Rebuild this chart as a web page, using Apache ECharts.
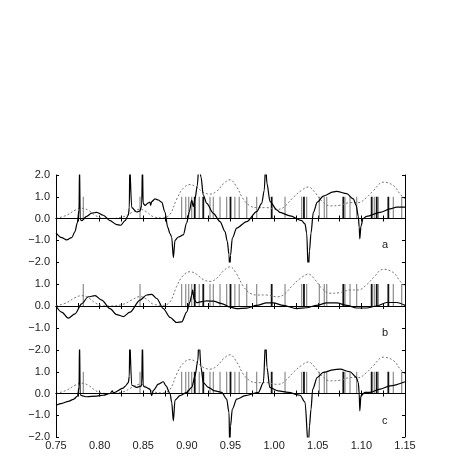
<!DOCTYPE html>
<html>
<head>
<meta charset="utf-8">
<script src="https://cdn.jsdelivr.net/npm/echarts@6/dist/echarts.min.js"></script>
<style>
  html, body { margin: 0; padding: 0; background: #fff; }
  #chart { width: 474px; height: 474px; }
</style>
</head>
<body>
<div id="chart"></div>
<script>
// x ticks, y ticks
const xTicks = [0.75, 0.80, 0.85, 0.90, 0.95, 1.00, 1.05, 1.10, 1.15]
const yTicks = [-2, -1, 0, 1, 2]
const panelNames = ['a', 'b', 'c']

// stick spectrum (positions on the x axis, all sticks reach 1.0)
const grayStickX = [0.7813, 0.8463, 0.894, 0.8987, 0.9021, 0.9055, 0.9142, 0.9265, 0.9303, 0.938,
  0.9456, 0.955, 0.960, 0.9686, 0.980, 1.0125, 1.0316, 1.0373, 1.0518, 1.0575, 1.0603,
  1.0812, 1.087, 1.0946, 1.1148, 1.1194, 1.1366, 1.1462]
const blackStickX = [0.909, 0.9188, 0.950, 0.9972, 1.0342, 1.0793, 1.1118, 1.1176, 1.1309]

// dotted envelope (same in all three panels)
const dottedCurve = [
  [0.75, 0.0], [0.7622, 0.15], [0.7718, 0.38], [0.7794, 0.47], [0.787, 0.38], [0.7947, 0.15],
  [0.8024, 0.02], [0.8119, 0.0], [0.8272, 0.08], [0.8367, 0.27], [0.8463, 0.43], [0.854, 0.3],
  [0.8616, 0.08], [0.873, 0.03], [0.8807, 0.19], [0.8883, 0.89], [0.896, 1.4], [0.9036, 1.56],
  [0.9112, 1.44], [0.9188, 1.2], [0.9265, 1.12], [0.9341, 1.25], [0.9418, 1.59], [0.9494, 1.78],
  [0.9571, 1.45], [0.9647, 0.89], [0.9724, 0.58], [0.98, 0.5], [0.9915, 0.5], [1.003, 0.42],
  [1.0105, 0.5], [1.022, 0.97], [1.0316, 1.3], [1.0392, 1.45], [1.0468, 1.2], [1.0545, 0.81],
  [1.064, 0.58], [1.0755, 0.61], [1.087, 0.73], [1.0965, 0.73], [1.1061, 0.97], [1.1137, 1.28],
  [1.1251, 1.67], [1.1366, 1.52], [1.1443, 1.13], [1.15, 0.89]
]

// solid curve, panel a
const solidA = [
  [0.75, -0.66], [0.7565, -0.88], [0.7622, -0.98], [0.768, -0.88], [0.7718, -0.6], [0.7744, -0.2],
  [0.7764, 0.4], [0.7770, 2.5], [0.7777, -0.05], [0.7794, -0.1], [0.7852, 0.1], [0.7909, 0.25],
  [0.7966, 0.28], [0.8042, 0.15], [0.8119, -0.1], [0.8195, -0.28], [0.8241, -0.31], [0.8291, -0.1],
  [0.8329, 0.15], [0.834, 0.5], [0.8346, 2.5], [0.8354, 2.5], [0.8368, 0.5], [0.8425, 0.3],
  [0.8463, 0.35], [0.8482, 0.6], [0.8491, 2.5], [0.8499, 0.7], [0.852, 0.6], [0.8558, 0.72],
  [0.8577, 0.75], [0.8585, 0.6], [0.8597, 0.78], [0.8635, 0.9], [0.8673, 0.85], [0.8711, 0.75],
  [0.8749, 0.3], [0.878, -0.4], [0.8807, -0.7], [0.8826, -0.85], [0.8845, -1.8], [0.8864, -1.0],
  [0.8902, -0.85], [0.8959, -0.75], [0.8998, -0.2], [0.9028, 0.3], [0.9055, 0.85], [0.9074, 0.55],
  [0.9093, 0.9], [0.9119, 1.5], [0.9139, 2.5], [0.9162, 1.9], [0.9188, 1.08], [0.9227, 0.7],
  [0.9303, 0.24], [0.938, -0.14], [0.9437, -0.6], [0.9463, -1.05], [0.9483, -1.66], [0.9491, -2.5],
  [0.95, -1.7], [0.9521, -0.9], [0.9571, -0.44], [0.9686, -0.14], [0.98, 0.32], [0.9858, 0.7],
  [0.9887, 1.3], [0.9903, 2.5], [0.9918, 1.6], [0.9953, 0.78], [1.003, 0.4], [1.0067, 0.28],
  [1.0182, 0.12], [1.0316, -0.1], [1.0354, -0.25], [1.0373, -0.66], [1.0392, -2.5], [1.0405, -1.5],
  [1.0423, -0.66], [1.0449, 0.28], [1.0495, 0.75], [1.0564, 1.03], [1.0678, 1.22], [1.0717, 1.25],
  [1.0832, 1.14], [1.0908, 0.9], [1.094, 0.6], [1.0965, 0.1], [1.0975, -0.4], [1.0982, -0.94],
  [1.0995, -0.35], [1.102, 0.0], [1.106, 0.1], [1.1213, 0.28], [1.1328, 0.44], [1.1405, 0.52],
  [1.15, 0.52]
]

// solid curve, panel b
const solidB = [
  [0.75, 0.0], [0.7565, -0.28], [0.7641, -0.55], [0.7718, -0.36], [0.7794, 0.1], [0.787, 0.42],
  [0.7947, 0.47], [0.8024, 0.27], [0.8119, -0.12], [0.8195, -0.39], [0.8272, -0.48], [0.8348, -0.28],
  [0.8463, 0.27], [0.854, 0.5], [0.8597, 0.53], [0.8654, 0.34], [0.873, -0.12], [0.8807, -0.52],
  [0.8883, -0.75], [0.8941, -0.72], [0.8998, -0.28], [0.9036, 0.19], [0.9055, 0.5], [0.9067, 0.73],
  [0.9082, 0.3], [0.9112, 0.15], [0.917, 0.2], [0.9227, 0.23], [0.9303, 0.22], [0.9399, 0.11],
  [0.9494, -0.05], [0.9571, -0.12], [0.9686, -0.1], [0.98, 0.03], [0.9915, 0.14], [0.999, 0.14],
  [1.0105, 0.03], [1.0258, -0.12], [1.0373, -0.08], [1.0488, 0.03], [1.0603, 0.14], [1.0717, 0.14],
  [1.0832, 0.03], [1.0946, -0.09], [1.1061, -0.09], [1.1176, 0.0], [1.129, 0.16], [1.1405, 0.16],
  [1.15, 0.03]
]

// solid curve, panel c
const solidC = [
  [0.75, -0.54], [0.757, -0.45], [0.7641, -0.36], [0.7699, -0.27], [0.7747, -0.12], [0.7764, 0.3],
  [0.7770, 2.5], [0.7777, -0.05], [0.7794, -0.1], [0.7852, -0.15], [0.7966, -0.12], [0.8042, -0.08],
  [0.8119, 0.0], [0.8145, 0.12], [0.8157, 0.03], [0.8272, 0.25], [0.8291, 0.33], [0.8329, 0.5],
  [0.834, 0.8], [0.8346, 2.5], [0.8354, 2.5], [0.8368, 0.38], [0.8425, 0.28], [0.8482, 0.35],
  [0.8491, 2.5], [0.8499, 0.35], [0.852, 0.3], [0.8577, 0.2], [0.8597, -0.1], [0.8616, 0.15],
  [0.8673, 0.43], [0.873, 0.54], [0.876, 0.35], [0.8807, 0.0], [0.8826, -0.4], [0.8845, -1.26],
  [0.8864, -0.3], [0.8921, -0.1], [0.8998, 0.05], [0.9055, 0.28], [0.9093, 0.8], [0.9125, 1.5],
  [0.9139, 2.5], [0.9162, 1.2], [0.9188, 0.5], [0.9246, 0.28], [0.9322, 0.12], [0.9399, 0.05],
  [0.9456, -0.26], [0.9483, -0.88], [0.9491, -2.5], [0.95, -1.5], [0.9521, -0.72], [0.9571, -0.26],
  [0.9667, -0.1], [0.982, 0.05], [0.9877, 0.5], [0.9903, 2.5], [0.9918, 1.2], [0.995, 0.28],
  [1.0048, 0.12], [1.0163, 0.05], [1.0297, -0.08], [1.0354, -0.4], [1.0392, -2.5], [1.0405, -1.5],
  [1.0423, -0.72], [1.0442, 0.2], [1.0495, 0.74], [1.0564, 0.97], [1.0678, 1.09], [1.0755, 1.12],
  [1.087, 1.0], [1.094, 0.75], [1.0965, 0.5], [1.0975, 0.0], [1.0982, -0.8], [1.0995, -0.1],
  [1.104, 0.05], [1.1099, 0.05], [1.1213, 0.2], [1.1328, 0.35], [1.15, 0.54]
]

const solids = [solidA, solidB, solidC]

const chart = echarts.init(document.getElementById('chart'))
const font = 'Liberation Sans, Arial, sans-serif'
const grids = [
  { left: 56, top: 175, width: 349, height: 87 },
  { left: 56, top: 262, width: 349, height: 88 },
  { left: 56, top: 350, width: 349, height: 87 },
]

const xAxis = []
const yAxis = []
const series = []

const tickStyle = { show: true, inside: true, length: 3, lineStyle: { color: '#000', width: 1 } }
const axisLine = { show: true, lineStyle: { color: '#000', width: 1 } }

function stickSeries(xs, color, width, gi) {
  return {
    type: 'custom',
    xAxisIndex: gi * 2,
    yAxisIndex: gi * 2,
    data: xs.map(x => [x, 1]),
    encode: { x: 0, y: 1 },
    silent: true,
    z: 2,
    renderItem: (params, api) => {
      const p0 = api.coord([api.value(0), 0])
      const p1 = api.coord([api.value(0), api.value(1)])
      return {
        type: 'line',
        shape: { x1: p0[0], y1: p0[1], x2: p1[0], y2: p1[1] },
        style: { stroke: color, lineWidth: width },
      }
    },
  }
}

grids.forEach((g, gi) => {
  const last = gi === grids.length - 1
  xAxis.push({
    type: 'value', gridIndex: gi, position: 'bottom',
    min: 0.75, max: 1.15, interval: 0.025,
    axisLine, axisTick: tickStyle, splitLine: { show: false },
    axisLabel: {
      show: last, margin: 3, color: '#222', fontFamily: font, fontSize: 11,
      formatter: v => (Math.round(v * 1000) % 50 === 0 ? v.toFixed(2) : ''),
    },
  })
  xAxis.push({
    type: 'value', gridIndex: gi, position: 'top',
    min: 0.75, max: 1.15, interval: 0.025,
    axisLine, axisTick: tickStyle, splitLine: { show: false }, axisLabel: { show: false },
  })
  yAxis.push({
    type: 'value', gridIndex: gi, position: 'left',
    min: -2, max: 2, interval: 1,
    axisLine, axisTick: tickStyle, splitLine: { show: false },
    axisLabel: {
      margin: 6, color: '#222', fontFamily: font, fontSize: 11,
      formatter: v => {
        if (v === 2 && gi > 0) return ''
        return (v < 0 ? '\u2212' : '') + Math.abs(v).toFixed(1)
      },
    },
  })
  yAxis.push({
    type: 'value', gridIndex: gi, position: 'right',
    min: -2, max: 2, interval: 1,
    axisLine, axisTick: tickStyle, splitLine: { show: false }, axisLabel: { show: false },
  })

  series.push(stickSeries(grayStickX, '#8c8c8c', 1.2, gi))
  series.push(stickSeries(blackStickX, '#111', 1.8, gi))
  series.push({
    type: 'line', xAxisIndex: gi * 2, yAxisIndex: gi * 2,
    data: dottedCurve, showSymbol: false, symbol: 'none', smooth: 0.4,
    lineStyle: { color: '#777', width: 1, type: [2, 2] },
    z: 3, silent: true,
    markLine: {
      silent: true, symbol: 'none', label: { show: false },
      lineStyle: { color: '#000', width: 1, type: 'solid' },
      data: [{ yAxis: 0 }],
    },
  })
  series.push({
    type: 'line', xAxisIndex: gi * 2, yAxisIndex: gi * 2,
    data: solids[gi], showSymbol: false, symbol: 'none',
    smooth: 0.3, smoothMonotone: 'x', clip: true,
    lineStyle: { color: '#000', width: 1.2 },
    z: 4, silent: true,
  })
})

const option = {
  animation: false,
  backgroundColor: '#fff',
  grid: grids,
  xAxis,
  yAxis,
  series,
  graphic: panelNames.map((name, i) => ({
    type: 'text',
    left: 382,
    top: [239, 327, 415][i],
    style: { text: name, fill: '#222', font: '11px ' + font },
  })),
}
chart.setOption(option)
</script>
</body>
</html>
